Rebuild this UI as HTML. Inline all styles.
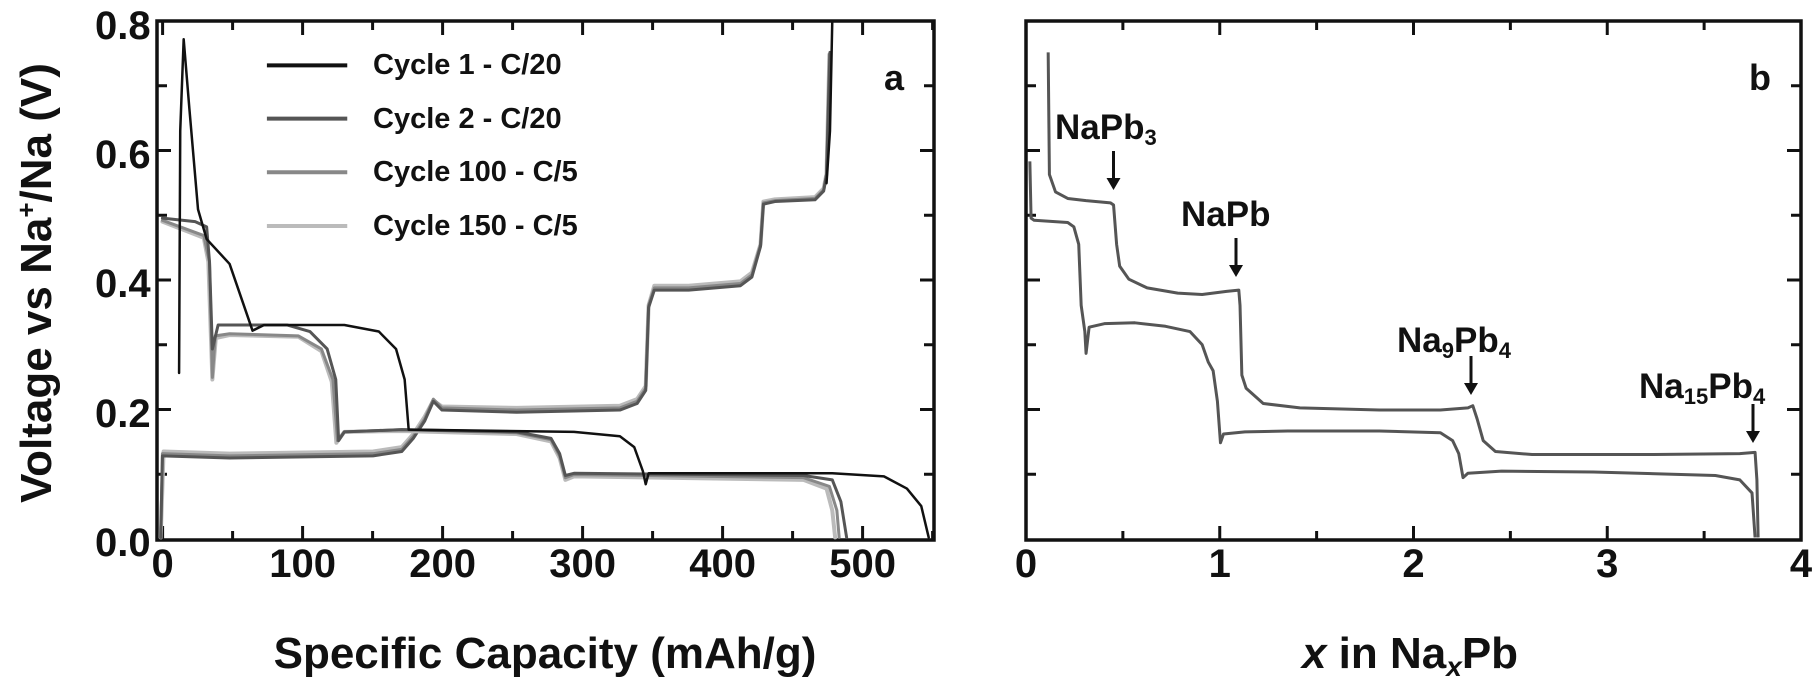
<!DOCTYPE html>
<html><head><meta charset="utf-8"><style>
html,body{margin:0;padding:0;background:#fff;}
body{width:1818px;height:684px;position:relative;overflow:hidden;font-family:"Liberation Sans",sans-serif;font-weight:bold;}
.t{position:absolute;white-space:nowrap;color:#111;line-height:1;}
svg{position:absolute;overflow:visible;}
</style></head><body>
<svg id="frame" width="1818" height="684" style="left:0;top:0"></svg>

<svg style="left:0;top:0" width="900" height="684" viewBox="0 0 1568 1568" preserveAspectRatio="none">
<g fill="none" stroke-linejoin="round" stroke-linecap="round">
<path vector-effect="non-scaling-stroke" stroke="#bbb" stroke-width="4" d="M280,1232 L285,1035 400,1040 650,1035 700,1025 720,995 740,955 755,918 770,932 900,935 1080,930 1110,915 1125,885 1130,700 1140,655 1200,655 1290,645 1310,625 1325,560 1330,462 1350,457 1420,452 1435,432 1440,398 1445,125"/>
<path vector-effect="non-scaling-stroke" stroke="#888" stroke-width="3" d="M280,1232 L283,1040 400,1045 650,1040 700,1030 720,1000 740,960 755,915 770,935 900,940 1080,935 1110,920 1125,890 1130,700 1140,660 1200,660 1290,650 1310,630 1325,560 1330,465 1350,460 1420,455 1435,435 1440,400 1445,125"/>
<path vector-effect="non-scaling-stroke" stroke="#555" stroke-width="3" d="M280,1232 L283,1045 400,1050 650,1045 700,1035 720,1005 740,965 755,920 770,940 900,945 1080,940 1110,925 1125,895 1130,705 1140,665 1200,665 1290,655 1310,635 1325,565 1330,468 1350,462 1420,458 1435,438 1440,400 1446,120"/>
<path vector-effect="non-scaling-stroke" stroke="#111" stroke-width="2.5" d="M1440,420 L1446,300 1450,48"/>
<path vector-effect="non-scaling-stroke" stroke="#bbb" stroke-width="4" d="M283,508 L355,545 363,600 370,870 376,775 400,768 520,772 560,805 578,875 586,1015 600,990 700,988 900,995 960,1012 975,1050 985,1100 1000,1092 1400,1100 1440,1120 1450,1170 1455,1232"/>
<path vector-effect="non-scaling-stroke" stroke="#888" stroke-width="3" d="M283,505 L355,540 365,600 370,865 375,770 400,765 520,770 560,800 580,870 588,1010 600,990 700,985 900,992 960,1008 975,1045 985,1095 1000,1088 1400,1095 1445,1115 1458,1170 1462,1232"/>
<path vector-effect="non-scaling-stroke" stroke="#555" stroke-width="3" d="M283,500 L340,508 360,520 365,600 370,800 380,745 500,745 540,760 570,800 585,870 590,1010 600,990 700,985 900,990 960,1005 975,1040 985,1090 1000,1085 1400,1090 1450,1100 1465,1150 1475,1232"/>
<path vector-effect="non-scaling-stroke" stroke="#111" stroke-width="2.5" d="M312,855 L314,300 320,90 330,250 345,480 360,548 400,605 440,758 460,745 600,745 660,760 690,800 705,870 712,985 1000,990 1080,1000 1105,1025 1120,1080 1125,1110 1130,1085 1450,1085 1540,1092 1580,1120 1605,1160 1618,1232"/>
</g>
<line x1="465" y1="150" x2="605" y2="150" stroke="#111" vector-effect="non-scaling-stroke" stroke-width="4"/>
<line x1="465" y1="272" x2="605" y2="272" stroke="#555" vector-effect="non-scaling-stroke" stroke-width="4"/>
<line x1="465" y1="395" x2="605" y2="395" stroke="#888" vector-effect="non-scaling-stroke" stroke-width="4"/>
<line x1="465" y1="518" x2="605" y2="518" stroke="#bbb" vector-effect="non-scaling-stroke" stroke-width="4"/>
</svg>

<svg style="left:860px;top:0" width="958" height="684" viewBox="0 0 1568 1568" preserveAspectRatio="none">
<g fill="none" stroke="#555" stroke-width="3" stroke-linejoin="round">
<path vector-effect="non-scaling-stroke" d="M308,120 L310,400 320,440 340,455 370,460 410,465 415,470 420,560 425,610 440,640 470,660 520,672 560,675 600,668 620,665 622,700 625,860 632,890 660,925 720,935 850,940 950,940 995,935 1003,930 1010,960 1020,1010 1040,1035 1100,1042 1300,1042 1440,1040 1465,1037 1468,1100 1470,1232"/>
<path vector-effect="non-scaling-stroke" d="M278,370 L280,500 285,505 340,510 350,520 358,560 362,700 368,760 370,810 375,750 400,742 450,740 500,748 540,760 560,790 570,830 578,850 585,920 590,1015 595,995 630,990 700,988 850,988 950,992 970,1010 980,1040 987,1095 995,1085 1050,1080 1200,1082 1400,1090 1440,1100 1460,1130 1465,1232"/>
</g>
</svg>

<!-- Panel a labels -->
<div class="t" style="left:95px;top:6px;font-size:40px;">0.8</div>
<div class="t" style="left:95px;top:135px;font-size:40px;">0.6</div>
<div class="t" style="left:95px;top:264px;font-size:40px;">0.4</div>
<div class="t" style="left:95px;top:394px;font-size:40px;">0.2</div>
<div class="t" style="left:95px;top:523px;font-size:40px;">0.0</div>
<div class="t" style="left:-232px;top:260px;width:540px;height:46px;text-align:center;font-size:44px;transform:rotate(-90deg);transform-origin:center;">Voltage vs Na<sup style="font-size:26px;vertical-align:16px;line-height:0">+</sup>/Na (V)</div>

<div class="t" style="left:884px;top:60px;font-size:36px;">a</div>
<div class="t" style="left:373px;top:51px;font-size:29px;">Cycle 1 - C/20</div>
<div class="t" style="left:373px;top:105px;font-size:29px;">Cycle 2 - C/20</div>
<div class="t" style="left:373px;top:158px;font-size:29px;">Cycle 100 - C/5</div>
<div class="t" style="left:373px;top:212px;font-size:29px;">Cycle 150 - C/5</div>
<div id="xa"></div>
<div class="t" style="left:245px;top:632px;font-size:44px;width:600px;text-align:center;">Specific Capacity (mAh/g)</div>

<!-- Panel b labels -->
<div class="t" style="left:1749px;top:60px;font-size:36px;">b</div>
<div class="t" style="left:1055px;top:110px;font-size:35px;">NaPb<sub style="font-size:22px;vertical-align:-6px;line-height:0">3</sub></div>
<div class="t" style="left:1181px;top:197px;font-size:35px;">NaPb</div>
<div class="t" style="left:1397px;top:323px;font-size:35px;">Na<sub style="font-size:22px;vertical-align:-6px;line-height:0">9</sub>Pb<sub style="font-size:22px;vertical-align:-6px;line-height:0">4</sub></div>
<div class="t" style="left:1639px;top:369px;font-size:35px;">Na<sub style="font-size:22px;vertical-align:-6px;line-height:0">15</sub>Pb<sub style="font-size:22px;vertical-align:-6px;line-height:0">4</sub></div>
<div class="t" style="left:1110px;top:632px;font-size:44px;width:600px;text-align:center;"><i>x</i> in Na<sub style="font-size:28px;vertical-align:-8px;line-height:0"><i>x</i></sub>Pb</div>

<script>
var s=document.getElementById('frame'),h='';
function L(a,b,c,d,w){h+='<line x1="'+a+'" y1="'+b+'" x2="'+c+'" y2="'+d+'" stroke="#111" stroke-width="'+(w||3)+'"/>';}
function frame(x0,x1){h+='<rect x="'+x0+'" y="21" width="'+(x1-x0)+'" height="519" fill="none" stroke="#111" stroke-width="3.5"/>';
 for(var k=1;k<8;k++){var y=539-64.75*k;var len=(k%2==0)?14:10;L(x0,y,x0+len,y);L(x1,y,x1-len,y);}}
frame(157,934);frame(1026,1801);
for(var c=0;c<=550;c+=50){var x=162.6+1.4*c;var len=(c%100==0)?14:9;L(x,540,x,540-len);L(x,21,x,21+len);}
for(var u=0.5;u<4;u+=0.5){var x=1026+193.75*u;var len=(u%1==0)?14:9;L(x,540,x,540-len);L(x,21,x,21+len);}
function A(x,y0,y1){L(x,y0,x,y1-8,3);h+='<polygon points="'+(x-7)+','+(y1-12)+' '+(x+7)+','+(y1-12)+' '+x+','+y1+'" fill="#111"/>';}
A(1113.5,151,190);A(1236,238,277);A(1471,356,395);A(1753,404,443);
s.innerHTML+=h;
var d='';
[0,100,200,300,400,500].forEach(function(c){var x=162.6+1.4*c;d+='<div class="t" style="left:'+(x-60)+'px;top:544px;width:120px;text-align:center;font-size:40px;">'+c+'</div>';});
[0,1,2,3,4].forEach(function(u){var x=1026+193.75*u;d+='<div class="t" style="left:'+(x-60)+'px;top:544px;width:120px;text-align:center;font-size:40px;">'+u+'</div>';});
document.getElementById('xa').innerHTML=d;
</script>
</body></html>
